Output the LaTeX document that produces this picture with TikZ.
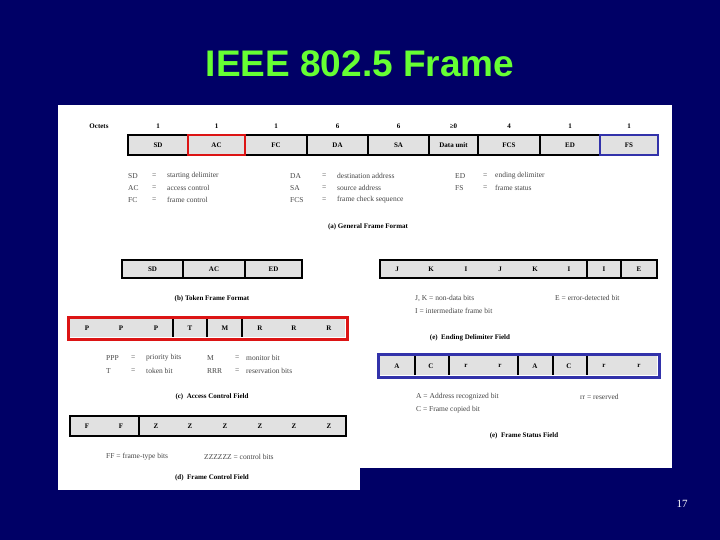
\documentclass[tikz,border=0pt]{standalone}
\usepackage{fontspec}
\setmainfont{Liberation Serif}
\newfontfamily\titlefont{Liberation Sans}
\definecolor{navy}{RGB}{0,0,102}
\definecolor{ttl}{RGB}{102,255,51}
\definecolor{cellgray}{RGB}{225,225,225}
\definecolor{txtgray}{RGB}{70,70,70}
\definecolor{hired}{RGB}{220,20,20}
\definecolor{hiblue}{RGB}{50,50,170}
\begin{document}
\begin{tikzpicture}[x=1pt,y=-1pt,
  cell/.style={draw=black,line width=1.3pt,fill=cellgray},
  lbl/.style={font=\fontsize{7}{8}\selectfont\bfseries,inner sep=0},
  leg/.style={font=\fontsize{7.5}{8}\selectfont,text=txtgray,inner sep=0,anchor=west},
  capt/.style={font=\fontsize{7}{8}\selectfont\bfseries,inner sep=0}]
\fill[navy] (0,0) rectangle (720,540);
\useasboundingbox (0,0) rectangle (720,540);
\fill[white] (58,105) rectangle (672,468);
\fill[white] (58,468) rectangle (360,490);
\node[font=\titlefont\fontsize{37}{40}\selectfont\bfseries,text=ttl] (title) at (360,64) {IEEE 802.5 Frame};
\node[font=\fontsize{11}{12}\selectfont,text=white] (pg) at (682,504) {17};
% (a)
\node[lbl] (oct) at (99,126) {Octets};
\foreach \a/\b/\t/\o [count=\i] in {128/188/SD/1,188/245/AC/1,245/307/FC/1,307/368/DA/6,368/429/SA/6,429/478/Data unit/≥0,478/540/FCS/4,540/600/ED/1,600/658/FS/1}{
  \draw[cell] (\a,135) rectangle (\b,155);
  \node[lbl] (f\i) at ({(\a+\b)/2},145) {\t};
  \node[lbl] (o\i) at ({(\a+\b)/2},126) {\o};
}
\draw[hired,line width=2.5pt] (188,135) rectangle (245,155);
\draw[hiblue,line width=2.5pt] (600,135) rectangle (658,155);
\foreach \x/\y/\ab/\tx/\xe/\xt [count=\i] in {
 128/176/SD/starting delimiter/152/167, 128/188/AC/access control/152/167, 128/200/FC/frame control/152/167,
 290/176/DA/destination address/322/337, 290/188/SA/source address/322/337, 290/200/FCS/frame check sequence/322/337,
 455/176/ED/ending delimiter/483/495, 455/188/FS/frame status/483/495}{
  \node[leg] (la\i) at (\x,\y) {\ab};
  \node[leg] (le\i) at (\xe,\y) {=};
  \node[leg] (lt\i) at (\xt,\y) {\tx};
}
\node[capt] (capa) at (368,227) {(a) General Frame Format};
% (b)
\foreach \a/\b/\t [count=\i] in {122/183/SD,183/245/AC,245/302/ED}{
  \draw[cell] (\a,260) rectangle (\b,278);
  \node[lbl] (t\i) at ({(\a+\b)/2},269) {\t};
}
\node[capt] (capb) at (212,299) {(b) Token Frame Format};
% (c)
\fill[cellgray] (70,319) rectangle (345,337);
\foreach \x in {173,207,242} \draw[line width=1.3pt] (\x,319) -- (\x,337);
\draw[hired,line width=3pt] (68,317) rectangle (347,339);
\foreach \x/\t [count=\i] in {87/P,121/P,156/P,190/T,225/M,260/R,294/R,329/R}
  \node[lbl] (ac\i) at (\x,328) {\t};
\node[leg] (c1) at (106,358) {PPP}; \node[leg] (c2) at (131,358) {=}; \node[leg] (c3) at (146,358) {priority bits};
\node[leg] (c4) at (207,358) {M}; \node[leg] (c5) at (235,358) {=}; \node[leg] (c6) at (246,358) {monitor bit};
\node[leg] (c7) at (106,371) {T}; \node[leg] (c8) at (131,371) {=}; \node[leg] (c9) at (146,371) {token bit};
\node[leg] (c10) at (207,371) {RRR}; \node[leg] (c11) at (235,371) {=}; \node[leg] (c12) at (246,371) {reservation bits};
\node[capt] (capc) at (212,397) {(c)\ \ Access Control Field};
% (d)
\draw[cell] (70,416) rectangle (346,436);
\draw[line width=1.3pt] (139,416) -- (139,436);
\foreach \x/\t [count=\i] in {87/F,121/F,156/Z,190/Z,225/Z,260/Z,294/Z,329/Z}
  \node[lbl] (fc\i) at (\x,426) {\t};
\node[leg] (d1) at (106,457) {FF = frame-type bits};
\node[leg] (d2) at (204,457) {ZZZZZZ = control bits};
\node[capt] (capd) at (212,478) {(d)\ \ Frame Control Field};
% (e) ending delimiter
\draw[cell] (380,260) rectangle (657,278);
\foreach \x in {587,621} \draw[line width=1.3pt] (\x,260) -- (\x,278);
\foreach \x/\t [count=\i] in {397/J,431/K,466/I,500/J,535/K,569/I,604/I,639/E}
  \node[lbl] (ed\i) at (\x,269) {\t};
\node[leg] (e1) at (415,298) {J, K = non-data bits};
\node[leg] (e2) at (555,298) {E = error-detected bit};
\node[leg] (e3) at (415,311) {I = intermediate frame bit};
\node[capt] (cape) at (470,338) {(e)\ \ Ending Delimiter Field};
% (e) frame status
\fill[cellgray] (380,356) rectangle (657,375);
\foreach \x in {415,449,518,553,587} \draw[line width=1.3pt] (\x,356) -- (\x,375);
\draw[hiblue,line width=3pt] (378,354) rectangle (659,377);
\foreach \x/\t [count=\i] in {397/A,431/C,466/r,500/r,535/A,569/C,604/r,639/r}
  \node[lbl] (fs\i) at (\x,366) {\t};
\node[leg] (s1) at (416,397) {A = Address recognized bit};
\node[leg] (s2) at (580,397) {rr = reserved};
\node[leg] (s3) at (416,410) {C = Frame copied bit};
\node[capt] (capf) at (524,436) {(e)\ \ Frame Status Field};
\end{tikzpicture}
\end{document}
